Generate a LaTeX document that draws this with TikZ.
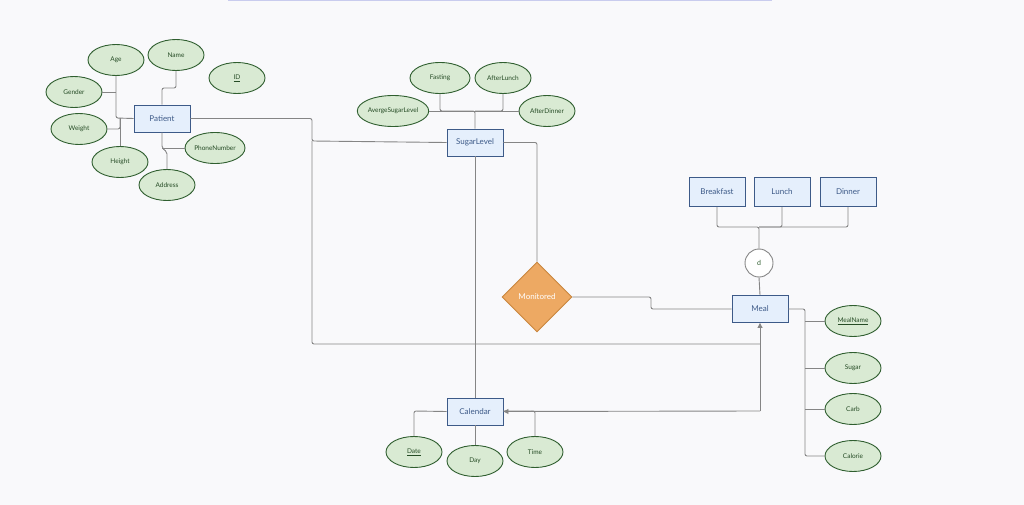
\documentclass[tikz,border=0pt]{standalone}
\usepackage{fontspec}
\setmainfont{Lato}
\usetikzlibrary{shapes.geometric,arrows.meta}
\definecolor{bg}{HTML}{F9F9FB}
\definecolor{attrf}{HTML}{D9EAD3}
\definecolor{attrd}{HTML}{2F5E2F}
\definecolor{entf}{HTML}{E5EFFC}
\definecolor{entd}{HTML}{3D5A88}
\definecolor{relf}{HTML}{EDA963}
\definecolor{reld}{HTML}{C9873F}
\definecolor{ln}{HTML}{858585}
\definecolor{topl}{HTML}{C9CCEE}
\tikzset{
 attr/.style={ellipse,draw=attrd,fill=attrf,line width=0.9pt,minimum width=56pt,minimum height=31pt,inner sep=0pt,font=\fontsize{6.5}{7}\selectfont,text=attrd!80!black},
 ent/.style={rectangle,draw=entd,fill=entf,line width=0.9pt,minimum width=56pt,minimum height=27pt,inner sep=0pt,font=\fontsize{8}{9}\selectfont,text=entd},
 con/.style={draw=ln,line width=0.9pt,rounded corners=2pt},
 arr/.style={con,-{Triangle[length=5pt,width=5pt]}}
}
\begin{document}
\begin{tikzpicture}[x=1pt,y=-1pt]
\fill[bg] (0,0) rectangle (1024,505);
\useasboundingbox (0,0) rectangle (1024,505);
\fill[topl] (228,0) rectangle (772,1.5);
% Patient
\node[ent] (patient) at (162,118.5) {Patient};
\node[attr] (age) at (116,60) {Age};
\node[attr] (name) at (176,55) {Name};
\node[attr] (id) at (237,78) {\underline{ID}};
\node[attr] (gender) at (74,92) {Gender};
\node[attr] (weight) at (79,129) {Weight};
\node[attr] (height) at (120,162) {Height};
\node[attr] (address) at (167,185) {Address};
\node[attr,minimum width=60pt] (phone) at (215,148) {PhoneNumber};
\draw[con] (age.south) -- (116,118) -- (patient.west);
\draw[con] (gender.east) -- (116,92);
\draw[con] (weight.east) -- (120,129) -- (120,118);
\draw[con] (height.north) -- (120,118);
\draw[con] (name.south) -- (176,88) -- (162,88) -- (patient.north);
\draw[con] (address.north) -- (167,152) -- (162,148) -- (patient.south);
\draw[con] (phone.west) -- (162,148);
% Sugar level
\node[ent] (sugar) at (475,142.5) {SugarLevel};
\node[attr,minimum width=60pt] (fasting) at (440,78) {Fasting};
\node[attr] (afterlunch) at (503,78) {AfterLunch};
\node[attr,minimum width=70pt] (avg) at (393,111) {AvergeSugarLevel};
\node[attr] (afterdinner) at (547,111) {AfterDinner};
\draw[con] (fasting.south) -- (440,111) -- (475,111) -- (sugar.north);
\draw[con] (afterlunch.south) -- (503,111) -- (475,111);
\draw[con] (avg.east) -- (475,111);
\draw[con] (afterdinner.west) -- (475,111);
% Monitored
\node[diamond,draw=reld,fill=relf,line width=0.9pt,minimum width=70pt,minimum height=70pt,inner sep=0pt,text=white,font=\fontsize{8}{9}\selectfont] (mon) at (537,297) {Monitored};
% Meal
\node[ent] (meal) at (760,309) {Meal};
\node[circle,draw=ln,fill=white,line width=0.9pt,minimum size=28pt,inner sep=0pt,font=\fontsize{7}{8}\selectfont,text=attrd] (d) at (759,263) {d};
\node[ent,minimum height=29pt] (breakfast) at (717,192) {Breakfast};
\node[ent,minimum height=29pt] (lunch) at (782,192) {Lunch};
\node[ent,minimum height=29pt] (dinner) at (848,192) {Dinner};
\draw[con] (breakfast.south) -- (717,227) -- (759,227) -- (d.north);
\draw[con] (lunch.south) -- (782,227) -- (759,227);
\draw[con] (dinner.south) -- (848,227) -- (759,227);
\draw[con] (d.south) -- (meal.north);
\node[attr] (mealname) at (853,321) {\underline{MealName}};
\node[attr] (msugar) at (853,368) {Sugar};
\node[attr] (carb) at (853,409) {Carb};
\node[attr] (calorie) at (853,456) {Calorie};
\draw[con] (meal.east) -- (805,309) -- (805,456) -- (calorie.west);
\draw[con] (mealname.west) -- (805,321);
\draw[con] (msugar.west) -- (805,368);
\draw[con] (carb.west) -- (805,409);
% Calendar
\node[ent] (cal) at (475,411.5) {Calendar};
\node[attr] (date) at (414,452) {\underline{Date}};
\node[attr] (day) at (475,461) {Day};
\node[attr] (time) at (535,452) {Time};
\draw[con] (date.north) -- (414,411) -- (cal.west);
\draw[con] (day.north) -- (cal.south);
\draw[con] (time.north) -- (535,411) -- (503,411);
% relations
\draw[con] (patient.east) -- (312,118.5) -- (312,141) -- (sugar.west);
\draw[con] (312,141) -- (312,344) -- (760,344);
\draw[con] (sugar.east) -- (537,142.5) -- (mon.north);
\draw[con] (mon.east) -- (651,297) -- (651,309) -- (meal.west);
\draw[con] (sugar.south) -- (cal.north);
\draw[arr] (760,411) -- (cal.east);
\draw[arr] (760,411) -- (meal.south);
\end{tikzpicture}
\end{document}
